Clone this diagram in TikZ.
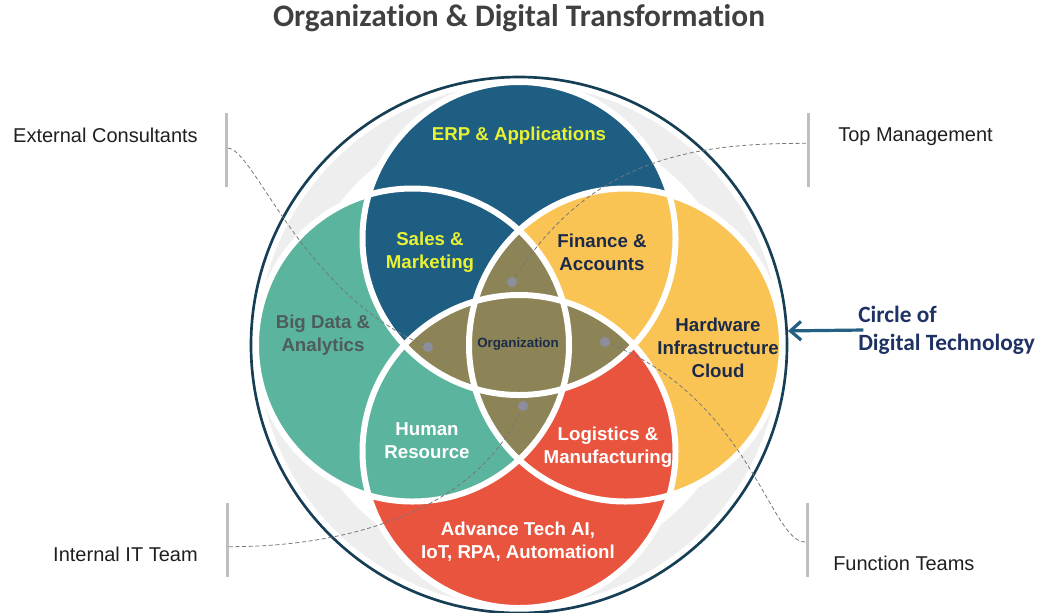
\documentclass[tikz,border=0pt]{standalone}
\usepackage{fontspec}
\setmainfont{Liberation Sans}
\newfontfamily\carlito[Ligatures=NoCommon]{Carlito}
\usetikzlibrary{arrows.meta,positioning}

\definecolor{erpBlue}{RGB}{30,94,130}
\definecolor{dataTeal}{RGB}{90,180,158}
\definecolor{finYellow}{RGB}{250,196,85}
\definecolor{logRed}{RGB}{233,84,62}
\definecolor{orgOlive}{RGB}{140,132,86}
\definecolor{rimNavy}{RGB}{22,62,85}
\definecolor{ringGray}{RGB}{238,238,238}
\definecolor{dotGray}{RGB}{140,142,158}
\definecolor{leadGray}{RGB}{120,120,120}
\definecolor{barGray}{RGB}{191,191,191}
\definecolor{limeText}{RGB}{232,242,50}
\definecolor{navyText}{RGB}{27,42,72}
\definecolor{slateText}{RGB}{78,92,92}
\definecolor{titleGray}{RGB}{64,64,64}
\definecolor{arrowBlue}{RGB}{35,96,131}
\definecolor{cdtNavy}{RGB}{31,50,100}

\begin{document}
\begin{tikzpicture}[x=0.75pt,y=-0.75pt,
  disc/.style={draw=white,line width=4.5pt},
  lbl/.style={font=\bfseries\fontsize{14}{17.25}\selectfont,align=center,inner sep=0pt},
  side/.style={font=\fontsize{15}{18}\selectfont,text=black!88,inner sep=0pt},
  bar/.style={fill=barGray,minimum width=2.25pt,minimum height=55.5pt,inner sep=0pt},
  dot/.style={circle,fill=dotGray,minimum size=7.5pt,inner sep=0pt},
  lead/.style={draw=leadGray,dash pattern=on 3pt off 2pt,line width=0.6pt},
  rim/.style={circle,draw=rimNavy,line width=2pt,minimum size=402pt,inner sep=0pt},
  pointer/.style={draw=arrowBlue,line width=2.4pt,-{Straight Barb[length=8pt,width=14pt]}}]
  \useasboundingbox (0,0) rectangle (1038,612);

  % centres of the four circles
  \coordinate (c) at (519,345);
  \coordinate (erp) at (519,238.5);
  \coordinate (adv) at (519,451.5);
  \coordinate (big) at (412.5,345);
  \coordinate (hw) at (625.5,345);

  % light ring behind
  \draw[ringGray,line width=24pt] (c) circle (245);

  % the four circles, overlaps in turn
  \fill[dataTeal] (big) circle (156.5);
  \fill[erpBlue] (erp) circle (156.5);
  \fill[finYellow] (hw) circle (156.5);
  \fill[logRed] (adv) circle (156.5);
  \begin{scope}
    \clip (adv) circle (156.5);
    \fill[dataTeal] (big) circle (156.5);
  \end{scope}
  \begin{scope}
    \clip (big) circle (156.5);
    \fill[orgOlive] (hw) circle (156.5);
  \end{scope}
  \begin{scope}
    \clip (erp) circle (156.5);
    \fill[orgOlive] (adv) circle (156.5);
  \end{scope}
  \foreach \p in {big,erp,hw,adv}
    \draw[disc] (\p) circle (156.5);

  \node[rim] (rim) at (c) {};

  % title and side labels
  \node[font=\carlito\bfseries\fontsize{23.5}{28}\selectfont,text=titleGray,anchor=base] (title) at (519,26) {Organization \& Digital Transformation};
  \node[side,anchor=east] (ext) at (198,135) {External Consultants};
  \node[side,anchor=west] (top) at (838,137) {Top Management};
  \node[side,anchor=east] (int) at (198,554) {Internal IT Team};
  \node[side,anchor=west] (fun) at (833,563) {Function Teams};
  \node[bar] (barE) at (226,150) {};
  \node[bar] (barT) at (808,150) {};
  \node[bar] (barI) at (227,540) {};
  \node[bar] (barF) at (807,540) {};

  % dots and dashed leads
  \node[dot] (dotT) at (512,282) {};
  \node[dot] (dotL) at (428,347) {};
  \node[dot] (dotR) at (605,342) {};
  \node[dot] (dotB) at (523,406) {};
  \draw[lead] ([yshift=1.5pt]barE.east) .. controls (255,150) and (300,290) .. (dotL);
  \draw[lead] ([yshift=5pt]barT.west) .. controls (690,143) and (590,160) .. (dotT);
  \draw[lead] ([yshift=-5pt]barI.east) .. controls (330,547) and (470,520) .. (dotB);
  \draw[lead] ([yshift=-1.5pt]barF.west) .. controls (770,542) and (750,400) .. (dotR);

  % circle labels
  \node[lbl,text=limeText] (erpL) at (519,136) {ERP \& Applications};
  \node[lbl,text=limeText] (sales) at (430,252) {Sales \&\\Marketing};
  \node[lbl,text=navyText] (fin) at (602,252) {Finance \&\\Accounts};
  \node[lbl,text=slateText] (bigL) at (323,335) {Big Data \&\\Analytics};
  \node[lbl,text=navyText] (hwL) at (718,348) {Hardware\\Infrastructure\\Cloud};
  \node[font=\bfseries\fontsize{10}{12}\selectfont,text=navyText,inner sep=0pt] (org) at (518,344) {Organization};
  \node[lbl,text=white] (hr) at (427,441) {Human\\Resource};
  \node[lbl,text=white] (log) at (608,447) {Logistics \&\\Manufacturing};
  \node[lbl,text=white] (advL) at (518,542) {Advance Tech AI,\\IoT, RPA, Automationl};

  % arrow to the rim
  \node[font=\carlito\bfseries\fontsize{17.5}{21}\selectfont,text=cdtNavy,align=left,anchor=west,inner sep=0pt] (cdt) at (858,330) {Circle of\\Digital Technology};
  \draw[pointer] ([xshift=4pt]cdt.west) -- (rim.3.2);
\end{tikzpicture}
\end{document}
